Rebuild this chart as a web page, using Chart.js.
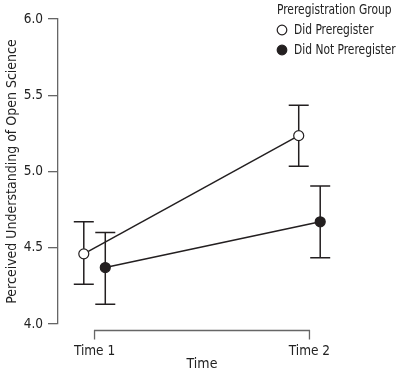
<!DOCTYPE html>
<html>
<head>
<meta charset="utf-8">
<script src="https://cdn.jsdelivr.net/npm/chart.js@4"></script>
<style>
  html, body { margin: 0; padding: 0; background: #fff; }
  #wrap { width: 400px; height: 373px; }
</style>
</head>
<body>
<div id="wrap"><canvas id="chart"></canvas></div>
<script>
const timeLabels = ['Time 1', 'Time 2'];
const timePositions = [1, 2];
const groupLabels = ['Did Preregister', 'Did Not Preregister'];
const legendTitle = 'Preregistration Group';
const preregMean = [4.46, 5.235];
const preregLow = [4.26, 5.035];
const preregHigh = [4.67, 5.435];
const notMean = [4.37, 4.67];
const notLow = [4.13, 4.435];
const notHigh = [4.60, 4.905];
const yTicks = [4.0, 4.5, 5.0, 5.5, 6.0];
const dodge = 0.05;

const ink = '#231f20';
const axisInk = '#666';
const fontFamily = "'Liberation Sans Narrow', 'DejaVu Sans Condensed', sans-serif";

Chart.defaults.font.family = fontFamily;
Chart.defaults.font.size = 13.5;
Chart.defaults.color = '#222';

function points(means, lows, highs, shift) {
  return timePositions.map((t, i) => ({ x: t + shift, y: means[i], lo: lows[i], hi: highs[i] }));
}

// vertical error bars with caps, under the points
const errorBars = {
  id: 'errorBars',
  beforeDatasetsDraw(chart) {
    const { ctx, scales: { y } } = chart;
    ctx.save();
    ctx.strokeStyle = ink;
    ctx.lineWidth = 1.5;
    chart.data.datasets.forEach((ds, di) => {
      const meta = chart.getDatasetMeta(di);
      ds.data.forEach((d, i) => {
        const px = meta.data[i].x;
        const top = y.getPixelForValue(d.hi);
        const bot = y.getPixelForValue(d.lo);
        ctx.beginPath();
        ctx.moveTo(px, top); ctx.lineTo(px, bot);
        ctx.moveTo(px - 10, top); ctx.lineTo(px + 10, top);
        ctx.moveTo(px - 10, bot); ctx.lineTo(px + 10, bot);
        ctx.stroke();
      });
    });
    ctx.restore();
  }
};

// bracket-style x axis
const bracket = {
  id: 'bracket',
  afterDraw(chart) {
    const { ctx, chartArea, scales: { x } } = chart;
    const x1 = x.getPixelForValue(timePositions[0]);
    const x2 = x.getPixelForValue(timePositions[timePositions.length - 1]);
    const yy = chartArea.bottom + 6.5;
    ctx.save();
    ctx.strokeStyle = axisInk;
    ctx.lineWidth = 1.3;
    ctx.beginPath();
    ctx.moveTo(x1, yy + 9); ctx.lineTo(x1, yy); ctx.lineTo(x2, yy); ctx.lineTo(x2, yy + 9);
    ctx.stroke();
    ctx.restore();
  }
};

// legend in the top right corner, text squeezed a little to match the narrow face
const cornerLegend = {
  id: 'cornerLegend',
  afterDraw(chart) {
    const { ctx } = chart;
    const squeeze = 0.88;
    ctx.save();
    ctx.font = '13.5px ' + fontFamily;
    ctx.textBaseline = 'middle';
    ctx.textAlign = 'left';
    const text = (str, x, y) => {
      ctx.save();
      ctx.translate(x, y);
      ctx.scale(squeeze, 1);
      ctx.fillStyle = '#222';
      ctx.fillText(str, 0, 0);
      ctx.restore();
    };
    text(legendTitle, 277, 10);
    chart.data.datasets.forEach((ds, i) => {
      const cy = 30 + i * 20;
      ctx.beginPath();
      ctx.arc(282, cy, 4.8, 0, Math.PI * 2);
      ctx.fillStyle = ds.pointBackgroundColor;
      ctx.fill();
      ctx.strokeStyle = ds.pointBorderColor;
      ctx.lineWidth = 1.2;
      ctx.stroke();
      text(ds.label, 294, cy);
    });
    ctx.restore();
  }
};

new Chart(document.getElementById('chart'), {
  type: 'scatter',
  data: {
    datasets: [
      {
        label: groupLabels[0],
        data: points(preregMean, preregLow, preregHigh, -dodge),
        showLine: true,
        borderColor: ink,
        borderWidth: 1.5,
        pointRadius: 5,
        pointBackgroundColor: '#fff',
        pointBorderColor: ink,
        pointBorderWidth: 1.2
      },
      {
        label: groupLabels[1],
        data: points(notMean, notLow, notHigh, dodge),
        showLine: true,
        borderColor: ink,
        borderWidth: 1.5,
        pointRadius: 5,
        pointBackgroundColor: ink,
        pointBorderColor: ink,
        pointBorderWidth: 1.2
      }
    ]
  },
  options: {
    responsive: true,
    maintainAspectRatio: false,
    animation: false,
    layout: { padding: { top: 19, right: 54, bottom: 0, left: 0 } },
    plugins: { legend: { display: false }, tooltip: { enabled: false } },
    scales: {
      x: {
        type: 'linear',
        min: 0.83,
        max: 2.17,
        afterBuildTicks: (s) => { s.ticks = timePositions.map(v => ({ value: v })); },
        afterFit: (s) => { s.height = 49; },
        ticks: {
          padding: 19,
          maxRotation: 0,
          callback: (v) => timeLabels[timePositions.indexOf(v)]
        },
        grid: { display: false, drawTicks: false },
        border: { display: false },
        title: { display: true, text: 'Time', padding: 0, font: { size: 14 } }
      },
      y: {
        min: 4,
        max: 6,
        afterBuildTicks: (s) => { s.ticks = yTicks.map(v => ({ value: v })); },
        afterFit: (s) => { s.width = 58; },
        ticks: { padding: 5, callback: (v) => Number(v).toFixed(1), font: { size: 13.5 } },
        grid: { drawOnChartArea: false, drawTicks: true, tickLength: 10, color: axisInk, lineWidth: 1.3 },
        border: { display: true, color: axisInk, width: 1.3 },
        title: { display: true, text: 'Perceived Understanding of Open Science', padding: 4, font: { size: 14 } }
      }
    }
  },
  plugins: [errorBars, bracket, cornerLegend]
});
</script>
</body>
</html>
